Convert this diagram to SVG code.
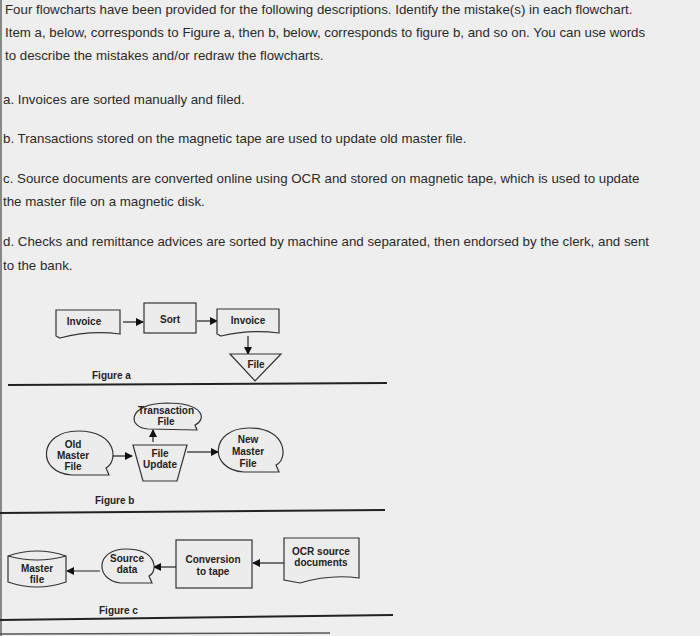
<svg xmlns="http://www.w3.org/2000/svg" width="700" height="636" viewBox="0 0 700 636">
<defs>
<marker id="ah" markerWidth="8" markerHeight="8" refX="7" refY="4" orient="auto" markerUnits="userSpaceOnUse"><path d="M0,0 L8,4 L0,8 z" fill="#111"/></marker>
<style>
.t{font-family:"Liberation Sans",Arial,sans-serif;font-size:13.3px;fill:#2a2a2a}
.n{font-family:"Liberation Sans",Arial,sans-serif;font-size:10px;font-weight:bold;fill:#222}
.s{fill:#ececec;stroke:#333;stroke-width:1.2}
.c{stroke:#222;stroke-width:1.2;fill:none;marker-end:url(#ah)}
.rule{stroke:#222;stroke-width:2}
</style>
</defs>
<rect width="700" height="636" fill="#eeeeee"/>
<line x1="1" y1="0" x2="1" y2="636" stroke="#666" stroke-width="1.5"/>
<g class="t">
<text x="5" y="14">Four flowcharts have been provided for the following descriptions. Identify the mistake(s) in each flowchart.</text>
<text x="5" y="37">Item a, below, corresponds to Figure a, then b, below, corresponds to figure b, and so on. You can use words</text>
<text x="5" y="60">to describe the mistakes and/or redraw the flowcharts.</text>
<text x="3" y="104">a. Invoices are sorted manually and filed.</text>
<text x="3" y="143">b. Transactions stored on the magnetic tape are used to update old master file.</text>
<text x="3" y="183">c. Source documents are converted online using OCR and stored on magnetic tape, which is used to update</text>
<text x="3" y="206">the master file on a magnetic disk.</text>
<text x="3" y="246">d. Checks and remittance advices are sorted by machine and separated, then endorsed by the clerk, and sent</text>
<text x="3" y="270">to the bank.</text>
</g>
<g id="connectors">
<line class="c" x1="123" y1="322" x2="143" y2="322"/>
<line class="c" x1="197" y1="321" x2="217" y2="321"/>
<line class="c" x1="248" y1="336" x2="248" y2="354"/>
<line class="c" x1="153" y1="442" x2="153" y2="430"/>
<line class="c" x1="110" y1="456" x2="132" y2="456"/>
<line class="c" x1="187" y1="452" x2="218" y2="452"/>
<line class="c" x1="100" y1="571" x2="67" y2="571"/>
<line class="c" x1="176" y1="567" x2="154" y2="567"/>
<line class="c" x1="284" y1="563" x2="253" y2="563"/>
</g>
<g id="fig-a">
<g id="invoice1"><path class="s" d="M56,310 H120 V334 Q90,330 60,338 L56,336 Z"/><text class="n" x="84" y="325" text-anchor="middle">Invoice</text></g>
<g id="sort"><rect class="s" x="144" y="303" width="52" height="30"/><text class="n" x="170" y="323" text-anchor="middle">Sort</text></g>
<g id="invoice2"><path class="s" d="M217,309 H279 V333 Q250,329 221,336 L217,334 Z"/><text class="n" x="248" y="324" text-anchor="middle">Invoice</text></g>
<g id="file"><path class="s" d="M230,354 H281 L255,381 Z"/><text class="n" x="256" y="368" text-anchor="middle">File</text></g>
<text class="n" x="92" y="379">Figure a</text>
<line class="rule" x1="8" y1="385" x2="387" y2="383"/>
</g>
<g id="fig-b">
<g id="transaction"><path class="s" d="M148,429 C128,428 126,404 166,403 C206,403 206,420 195,425 L197,430 Z"/><text class="n" x="166" y="414" text-anchor="middle" font-size="8.5">Transaction</text><text class="n" x="166" y="424.5" text-anchor="middle" font-size="8.5">File</text></g>
<g id="oldmaster"><path class="s" d="M72,475 C36,473 38,431 78,431 C118,431 118,462 106,468 L109,475 Z"/><text class="n" x="73" y="448" text-anchor="middle">Old</text><text class="n" x="73" y="459" text-anchor="middle">Master</text><text class="n" x="73" y="470" text-anchor="middle">File</text></g>
<g id="update"><path class="s" d="M133,445 H187 L177,481 H143 Z"/><text class="n" x="160" y="457" text-anchor="middle">File</text><text class="n" x="160" y="468" text-anchor="middle">Update</text></g>
<g id="newmaster"><path class="s" d="M244,472 C208,470 210,428 249,428 C288,428 288,460 276,465 L279,472 Z"/><text class="n" x="248" y="443" text-anchor="middle">New</text><text class="n" x="248" y="455" text-anchor="middle">Master</text><text class="n" x="248" y="467" text-anchor="middle">File</text></g>
<text class="n" x="95" y="504">Figure b</text>
<line class="rule" x1="0" y1="513" x2="385" y2="510"/>
</g>
<g id="fig-c">
<g id="masterfile"><path class="s" d="M8,556 Q37,546 66,556 V582 Q37,592 8,582 Z"/><path d="M8,556 Q37,564 66,556" fill="none" stroke="#333" stroke-width="1.2"/><text class="n" x="37" y="572" text-anchor="middle">Master</text><text class="n" x="37" y="583" text-anchor="middle">file</text></g>
<g id="sourcedata"><path class="s" d="M120,583 C95,580 95,549 126,549 C158,549 158,572 149,576 L152,583 Z"/><text class="n" x="127" y="562" text-anchor="middle">Source</text><text class="n" x="127" y="573" text-anchor="middle">data</text></g>
<g id="conversion"><rect class="s" x="176" y="540" width="76" height="48"/><text class="n" x="213" y="563" text-anchor="middle">Conversion</text><text class="n" x="213" y="575" text-anchor="middle">to tape</text></g>
<g id="ocr"><path class="s" d="M284,538 H359 V578 Q330,574 300,583 L284,580 Z"/><text class="n" x="321" y="555" text-anchor="middle">OCR source</text><text class="n" x="321" y="566" text-anchor="middle">documents</text></g>
<text class="n" x="99" y="614">Figure c</text>
<line class="rule" x1="0" y1="620" x2="393" y2="615"/>
<line x1="0" y1="634" x2="330" y2="633" stroke="#555" stroke-width="1.5"/>
</g>
</svg>
